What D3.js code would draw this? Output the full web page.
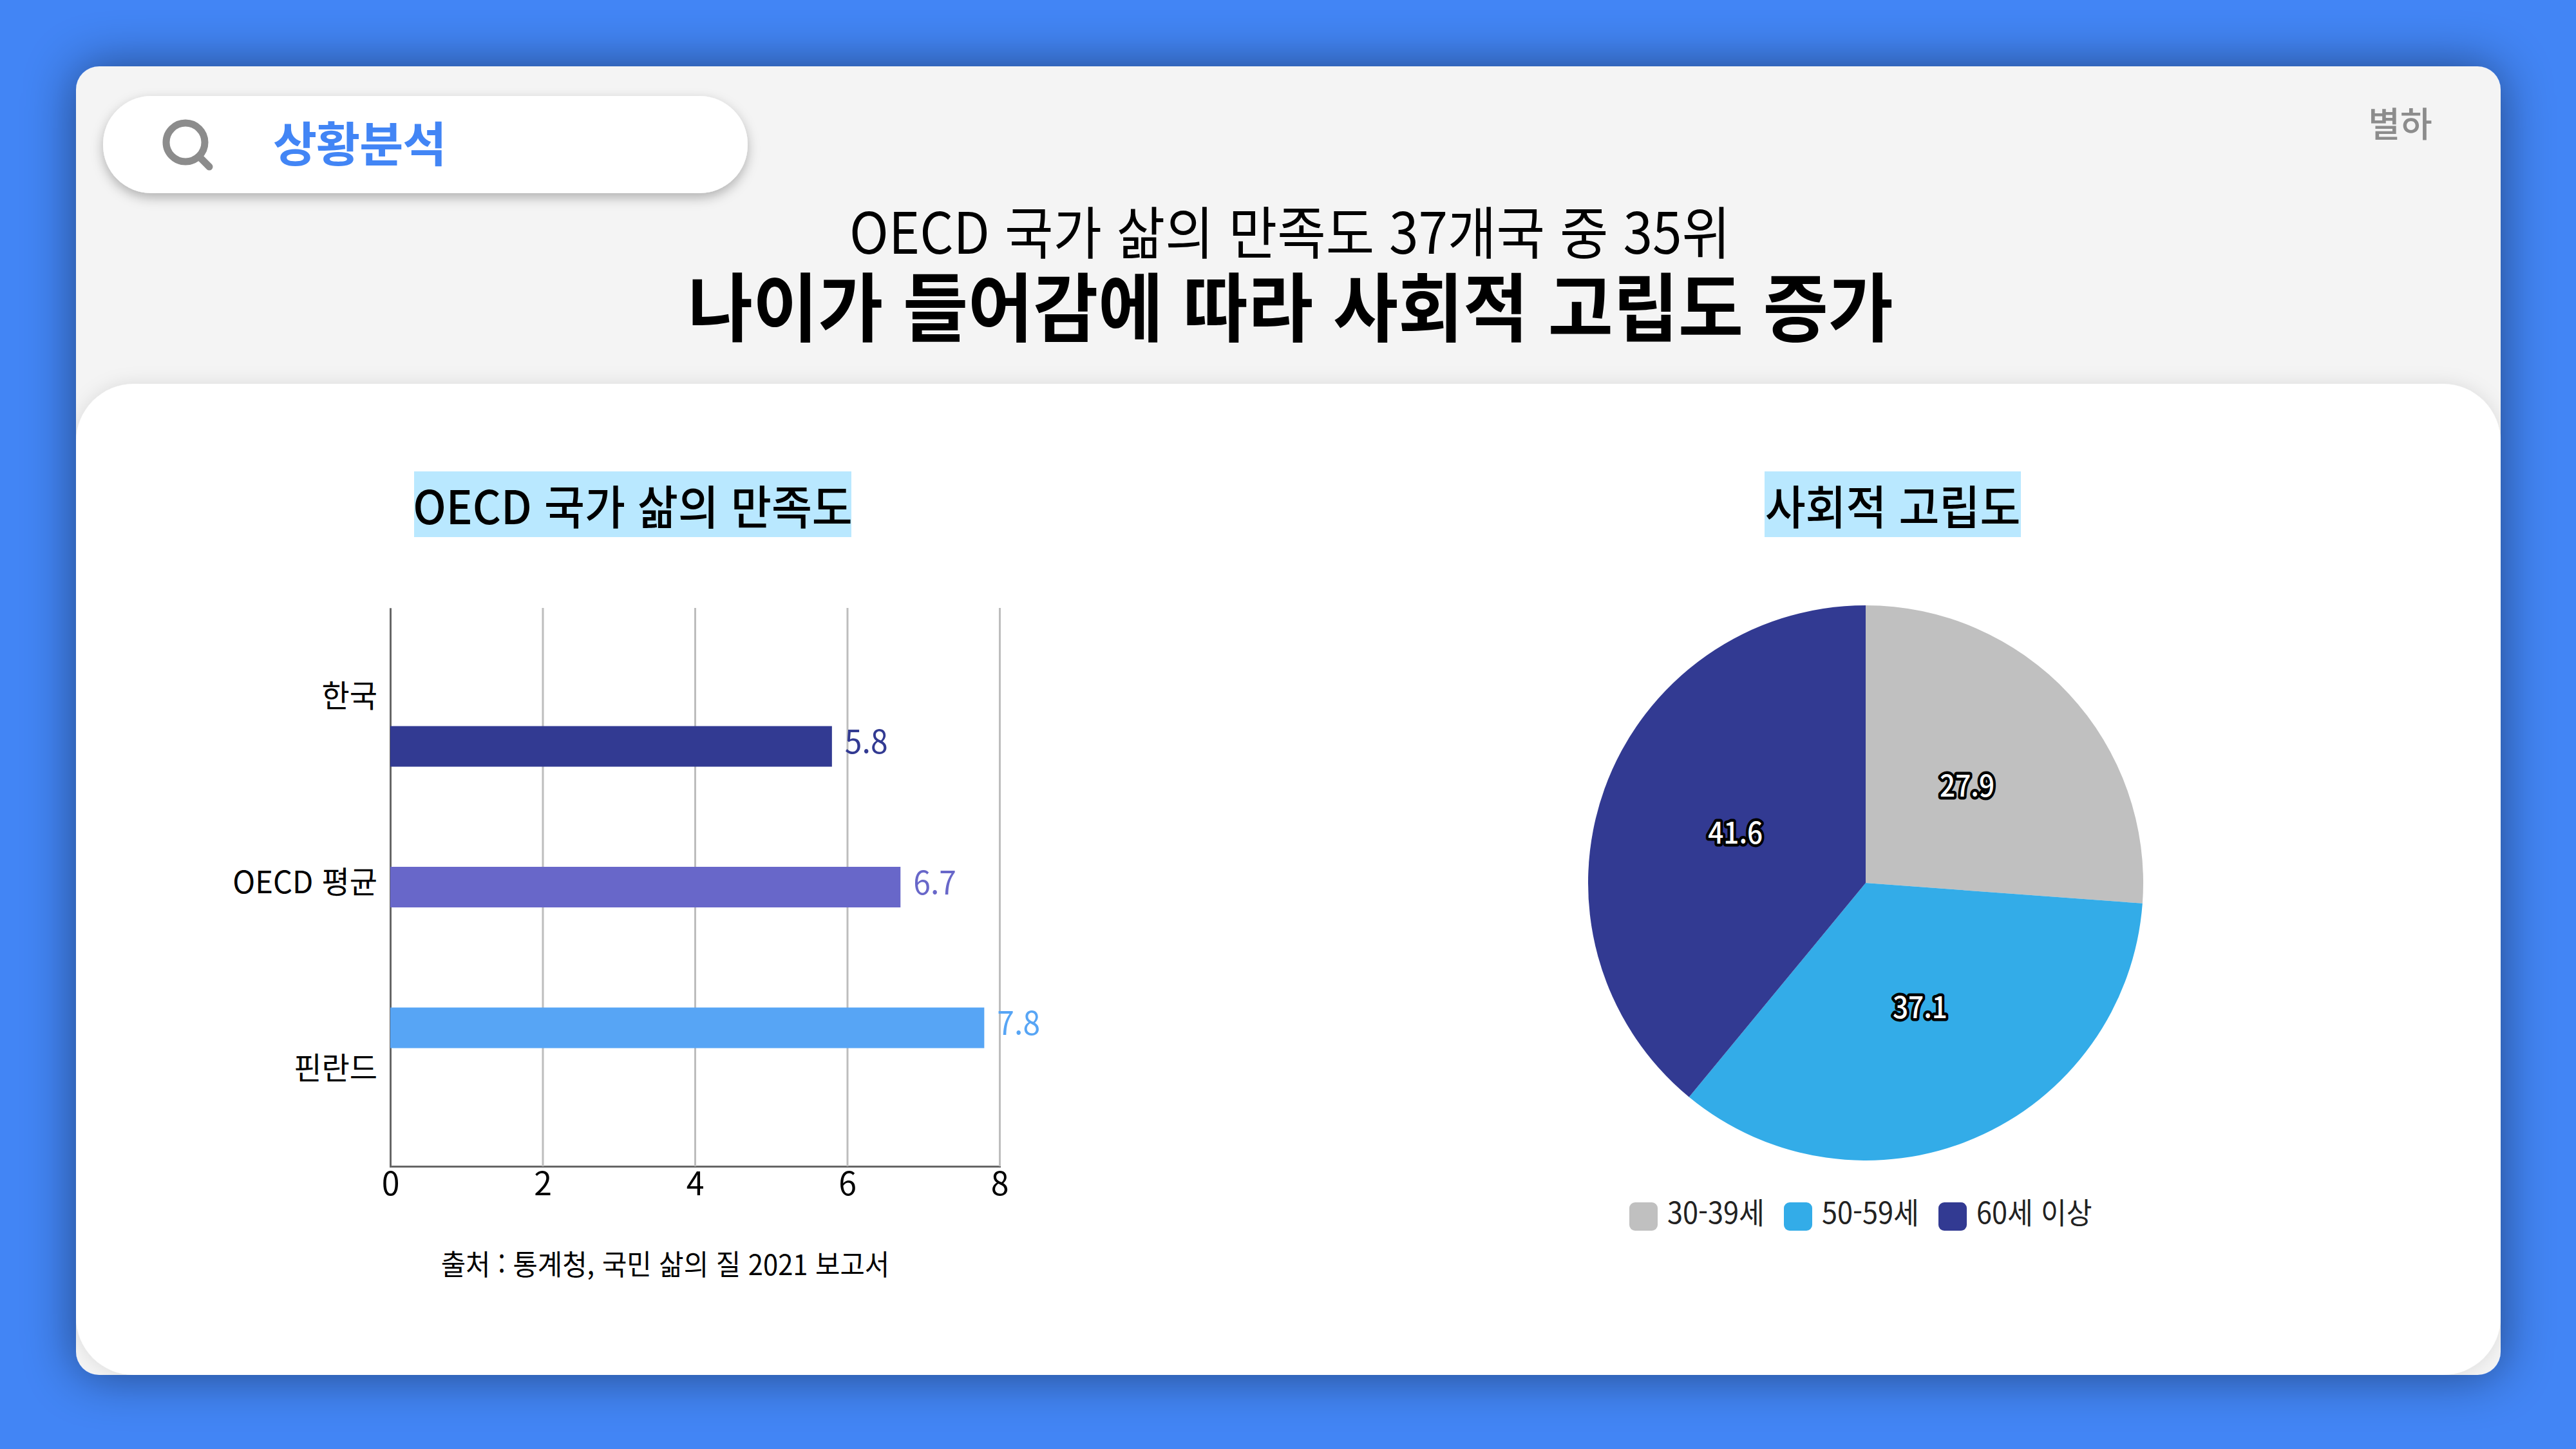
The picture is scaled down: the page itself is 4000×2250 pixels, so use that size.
<!DOCTYPE html>
<html lang="ko"><head><meta charset="utf-8">
<style>html,body{margin:0;padding:0;background:#4285F5}svg{display:block}text{font-family:"Noto Sans CJK KR","Noto Sans",sans-serif}</style>
<script src="https://cdnjs.cloudflare.com/ajax/libs/d3/7.8.5/d3.min.js"></script></head><body>
<svg id="c" width="4000" height="2250" viewBox="0 0 4000 2250"></svg>
<script>
const barCategories=["한국","OECD 평균","핀란드"];
const barValues=[5.8,6.7,7.8];
const barSlots=["c","b","a"];
const barSlotOrder=["a","b","c"];
const barColors=["#323A92","#6867C9","#57A5F5"];
const xTicks=[0,2,4,6,8];
const pieLabels=["30-39세","50-59세","60세 이상"];
const pieValues=[27.9,37.1,41.6];
const pieColors=["#C0C0C0","#33ACE8","#323A92"];

// the reference's type is slightly condensed: shrink glyphs horizontally by factor k
const squeeze=(sel,k)=>sel.each(function(){d3.select(this).attr("textLength",this.getComputedTextLength()*k).attr("lengthAdjust","spacingAndGlyphs");});

const svg=d3.select("#c");
const defs=svg.append("defs");
const shadow=(id,sd,dy,op)=>{const f=defs.append("filter").attr("id",id).attr("x","-20%").attr("y","-50%").attr("width","140%").attr("height","200%");
 f.append("feDropShadow").attr("dx",0).attr("dy",dy).attr("stdDeviation",sd).attr("flood-color","#000").attr("flood-opacity",op);};
shadow("cardS",40,0,.47);shadow("pillS",9,7,.28);shadow("panelS",14,0,.10);
defs.append("clipPath").attr("id","cardClip").append("rect").attr("x",118).attr("y",103).attr("width",3765).attr("height",2032).attr("rx",36);

svg.append("rect").attr("width",4000).attr("height",2250).attr("fill","#4285F5");
svg.append("rect").attr("x",118).attr("y",103).attr("width",3765).attr("height",2032).attr("rx",36).attr("fill","#F4F4F4").attr("filter","url(#cardS)");
svg.append("g").attr("clip-path","url(#cardClip)").append("rect").attr("x",118).attr("y",596).attr("width",3765).attr("height",1539).attr("rx",90).attr("fill","#fff").attr("filter","url(#panelS)");

// search pill
svg.append("rect").attr("x",160).attr("y",149).attr("width",1001).attr("height",151).attr("rx",75).attr("fill","#fff").attr("filter","url(#pillS)");
svg.append("circle").attr("cx",288).attr("cy",221).attr("r",30).attr("fill","none").attr("stroke","#8C8C8C").attr("stroke-width",11);
svg.append("line").attr("x1",309).attr("y1",243).attr("x2",325).attr("y2",259).attr("stroke","#8C8C8C").attr("stroke-width",11).attr("stroke-linecap","round");
svg.append("text").attr("x",424).attr("y",251).attr("font-size",74).attr("font-weight",700).attr("letter-spacing",-1).attr("fill","#4285F5").text("상황분석");
svg.append("text").attr("x",3727).attr("y",213).attr("text-anchor","middle").attr("font-size",54).attr("font-weight",500).attr("fill","#8C8C8C").text("별하");

// headings
svg.append("text").attr("x",2003).attr("y",394).attr("text-anchor","middle").attr("font-size",88).attr("font-weight",400).attr("fill","#000").text("OECD 국가 삶의 만족도 37개국 중 35위").call(squeeze,.932);
svg.append("text").attr("x",2004).attr("y",521).attr("text-anchor","middle").attr("font-size",116).attr("font-weight",700).attr("fill","#000").text("나이가 들어감에 따라 사회적 고립도 증가").call(squeeze,.947);

// section titles
function chartTitle(cx,w,t){
 svg.append("rect").attr("x",cx-w/2).attr("y",732).attr("width",w).attr("height",102).attr("fill","#B9E8FF");
 svg.append("text").attr("x",cx).attr("y",814).attr("text-anchor","middle").attr("font-size",72).attr("font-weight",500).attr("fill","#000").text(t).call(squeeze,.95);
}
chartTitle(982.5,679,"OECD 국가 삶의 만족도");
chartTitle(2939,398,"사회적 고립도");

// bar chart
const x=d3.scaleLinear().domain([0,8]).range([606,1552]);
const y=d3.scaleBand().domain(barCategories).range([944,1811]);
const ySlot=d3.scaleBand().domain(barSlotOrder).range([0,y.bandwidth()]).paddingInner(.106).paddingOuter(.6025);
const gx=svg.append("g").attr("transform","translate(0,1811)");
gx.call(d3.axisBottom(x).tickValues(xTicks).tickSize(-867).tickPadding(9));
gx.selectAll(".tick line").attr("stroke","#BDBDBD").attr("stroke-width",3);
gx.selectAll(".tick text").attr("font-size",50).attr("fill","#000");
gx.select(".domain").attr("stroke","#666").attr("stroke-width",3);
const gy=svg.append("g").attr("transform","translate(606,0)");
gy.call(d3.axisLeft(y).tickSize(0).tickPadding(20));
gy.selectAll(".tick text").attr("font-size",48).attr("fill","#000").attr("dy","0.2em").call(squeeze,.98);
gy.select(".domain").attr("stroke","#666").attr("stroke-width",3);
svg.selectAll("rect.bar").data(barCategories).join("rect").attr("class","bar")
 .attr("x",x(0)).attr("y",(d,i)=>y(d)+ySlot(barSlots[i])).attr("height",ySlot.bandwidth())
 .attr("width",(d,i)=>x(barValues[i])-x(0)).attr("fill",(d,i)=>barColors[i]);
svg.selectAll("text.val").data(barCategories).join("text").attr("class","val")
 .attr("x",(d,i)=>x(barValues[i])+20).attr("y",(d,i)=>y(d)+ySlot(barSlots[i])+ySlot.bandwidth()/2+11)
 .attr("font-size",50).attr("fill",(d,i)=>barColors[i]).text((d,i)=>barValues[i].toFixed(1)).call(squeeze,.96);
svg.append("text").attr("x",1033).attr("y",1980).attr("text-anchor","middle").attr("font-size",44).attr("fill","#000").text("출처 : 통계청, 국민 삶의 질 2021 보고서").call(squeeze,.948);

// pie
const R=431;
const pie=d3.pie().sort(null);
const arc=d3.arc().innerRadius(0).outerRadius(R);
const labelArc=d3.arc().innerRadius(215).outerRadius(215);
const gp=svg.append("g").attr("transform","translate(2897,1371)");
const arcs=pie(pieValues);
gp.selectAll("path").data(arcs).join("path").attr("d",arc).attr("fill",(d,i)=>pieColors[i]);
gp.selectAll("text").data(arcs).join("text").attr("transform",d=>`translate(${labelArc.centroid(d)})`)
 .attr("text-anchor","middle").attr("dy","0.26em").attr("font-size",46).attr("font-weight",500)
 .attr("fill","#fff").attr("stroke","#000").attr("stroke-width",9).attr("stroke-linejoin","round").attr("paint-order","stroke")
 .text(d=>d.value.toFixed(1)).call(squeeze,.92);

// legend
const legendSquare=[2530,2770,3010];
const lg=svg.selectAll("g.lg").data(pieLabels).join("g").attr("class","lg").attr("transform",(d,i)=>`translate(${legendSquare[i]},1867)`);
lg.append("rect").attr("width",44).attr("height",44).attr("rx",9).attr("fill",(d,i)=>pieColors[i]);
lg.append("text").attr("x",59).attr("y",33).attr("font-size",46).attr("fill","#222").text(d=>d).call(squeeze,.94);
</script></body></html>
